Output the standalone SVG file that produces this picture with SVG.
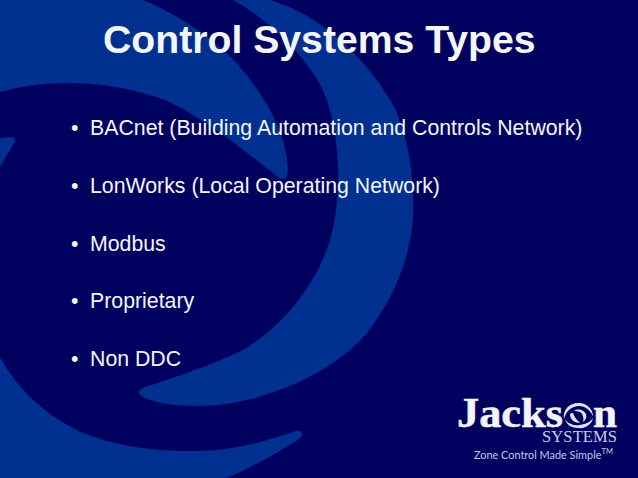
<svg xmlns="http://www.w3.org/2000/svg" width="638" height="478" viewBox="0 0 638 478">
<style>
.s{fill:#003090}
.t{font-family:"Liberation Sans",Arial,sans-serif;fill:#f4f6fb}
.b{font-size:21.3px}
.l{font-family:"Liberation Serif","Times New Roman",serif;fill:#f2f4fa}
.j{font-size:42px;font-weight:700;stroke:#f2f4fa;stroke-width:.5}
.z{font-family:Lato,"Open Sans",sans-serif;fill:#c4cbe6}
.w{fill:#dfe4f4}
</style>
<rect width="638" height="478" fill="#00005f"/>
<path class="s" d="M0,0H143C175,13 215,38 240,67C268,100 286,135 288,168C288,178 284,182 278,177C250,155 205,118 165,100C110,80 50,78 0,92Z"/>
<path class="s" d="M233,0H270C318,14 366,55 396,110C410,145 415,185 413,217C410,262 392,300 367,333C340,365 290,392 233,403C205,408 165,407 145,398C137,394 137,390 145,387C190,373 222,360 243,350C285,325 320,280 332,233C342,190 340,135 325,95C312,62 270,20 233,0Z"/>
<path class="s" d="M0,357C18,390 45,415 83,433C125,450 175,453 217,450C245,447 270,440 296,431C302,430 304,434 300,438C280,452 250,468 227,478H0Z"/>
<path class="s" d="M0,138L12,137C15,137 16,140 14,143C10,150 5,158 0,167Z"/>
<text class="t" x="103" y="53" font-size="39.2" font-weight="700">Control Systems Types</text>
<text class="t b" x="71" y="134.5">•</text><text class="t b" x="90" y="134.5">BACnet (Building Automation and Controls Network)</text>
<text class="t b" x="71" y="192.5">•</text><text class="t b" x="90" y="192.5">LonWorks (Local Operating Network)</text>
<text class="t b" x="71" y="250.5">•</text><text class="t b" x="90" y="250.5">Modbus</text>
<text class="t b" x="71" y="308">•</text><text class="t b" x="90" y="308">Proprietary</text>
<text class="t b" x="71" y="366">•</text><text class="t b" x="90" y="366">Non DDC</text>
<text class="l j" x="457" y="427" textLength="106" lengthAdjust="spacingAndGlyphs">Jacks</text>
<text class="l j" x="593" y="427" textLength="24" lengthAdjust="spacingAndGlyphs">n</text>
<path class="w" d="M564,419C562,409 571,402 580,403C588,404 593,410 593,416C590,410 585,406 579,406C572,406 566,411 564,419Z"/>
<path class="w" d="M593,418C592,424 586,429 578,428C572,428 567,425 565,420C569,424 574,426 580,425C586,424 590,422 593,418Z"/>
<path class="w" d="M574,411C578,408 584,410 586,414C587,417 586,420 583,422C584,418 583,414 580,412C578,411 576,411 574,411Z"/>
<path class="w" d="M570,414C570,419 574,423 580,423C577,420 574,417 573,413C572,413 571,413 570,414Z"/>
<text class="l" x="542" y="442" font-size="16.5" fill-opacity=".85" textLength="75" lengthAdjust="spacing">SYSTEMS</text>
<text class="z" x="474" y="459" font-size="10.9">Zone Control Made Simple<tspan font-size="7.5" dy="-5">TM</tspan></text>
</svg>
